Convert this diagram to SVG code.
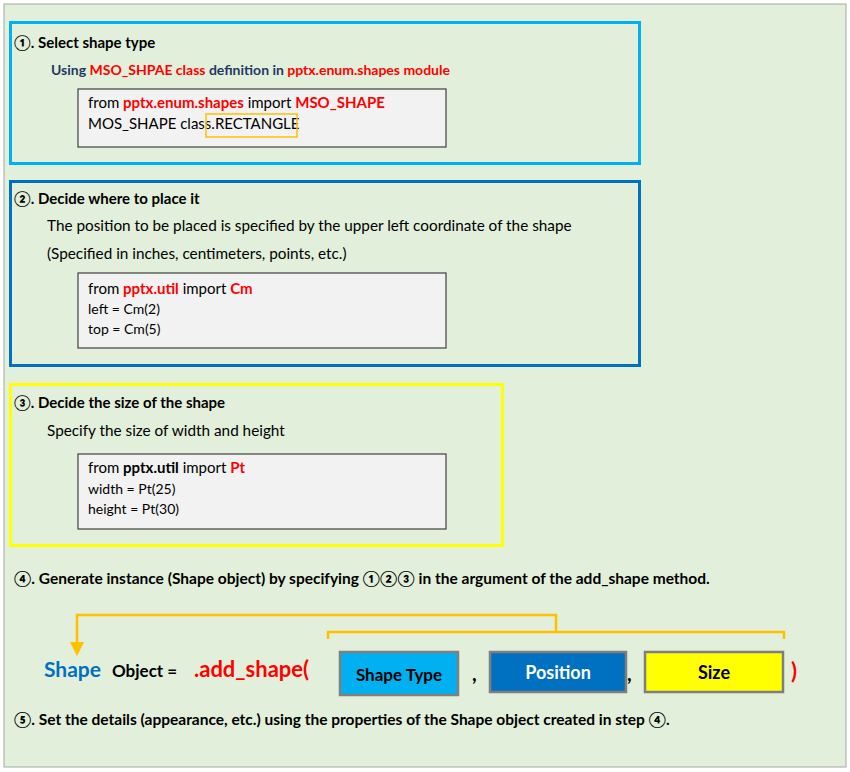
<svg xmlns="http://www.w3.org/2000/svg" width="850" height="772" viewBox="0 0 850 772">
<style>
text{font-family:Lato,"Open Sans","Liberation Sans",sans-serif;fill:#000}
.b{font-weight:bold}
.r{fill:#ff0000;font-weight:bold}
.t{font-size:15px}
.c{font-size:14px}
.s{font-size:15.5px;font-weight:bold}
.code{fill:#f2f2f2;stroke:#404040;stroke-width:1.2}
.con{fill:none;stroke:#ffc000;stroke-width:2.5}
</style>
<rect x="4" y="4" width="842" height="763" fill="#e2efda" stroke="#a6a6a6"/>
<g id="step1">
<rect x="10.5" y="22.5" width="629" height="141" fill="none" stroke="#00b0f0" stroke-width="3"/>
<text x="14" y="48" class="t b">①. Select shape type</text>
<text x="51" y="75" class="c b"><tspan style="fill:#1f3864">Using </tspan><tspan class="r">MSO_SHPAE class</tspan><tspan style="fill:#1f3864"> definition in </tspan><tspan class="r">pptx.enum.shapes module</tspan></text>
<rect x="78" y="89" width="368" height="58" class="code"/>
<text x="88" y="108" class="t">from <tspan class="r">pptx.enum.shapes</tspan> import <tspan class="r">MSO_SHAPE</tspan></text>
<text x="88" y="129" class="t">MOS_SHAPE class.RECTANGLE</text>
<rect x="206" y="114" width="91" height="23" fill="none" stroke="#ffc000" stroke-width="1.5"/>
</g>
<g id="step2">
<rect x="10.5" y="181.5" width="629" height="184" fill="none" stroke="#0070c0" stroke-width="3"/>
<text x="14" y="204" class="t b">②. Decide where to place it</text>
<text x="47" y="231" font-size="15.3">The position to be placed is specified by the upper left coordinate of the shape</text>
<text x="47" y="259" font-size="15.3">(Specified in inches, centimeters, points, etc.)</text>
<rect x="78" y="273" width="368" height="75" class="code"/>
<text x="88" y="294" class="t">from <tspan class="r">pptx.util</tspan> import <tspan class="r">Cm</tspan></text>
<text x="88" y="314" class="c">left = Cm(2)</text>
<text x="88" y="334" class="c">top = Cm(5)</text>
</g>
<g id="step3">
<rect x="10.5" y="384.5" width="492" height="161" fill="none" stroke="#ffff00" stroke-width="3"/>
<text x="14" y="408" class="t b">③. Decide the size of the shape</text>
<text x="47" y="436" font-size="15.3">Specify the size of width and height</text>
<rect x="78" y="454" width="368" height="75" class="code"/>
<text x="88" y="473" class="t">from <tspan class="b">pptx.util</tspan> import <tspan class="r">Pt</tspan></text>
<text x="88" y="494" class="c">width = Pt(25)</text>
<text x="88" y="514" class="c">height = Pt(30)</text>
</g>
<g id="step4">
<text x="14" y="584" class="s">④. Generate instance (Shape object) by specifying ①②③ in the argument of the add_shape method.</text>
</g>
<g id="formula">
<text x="44" y="677" font-size="21" font-weight="bold" style="fill:#0070c0">Shape</text>
<text x="112" y="677" font-size="17" class="b">Object =</text>
<text x="194" y="677" font-size="22" class="r">.add_shape(</text>
<text x="472" y="681" font-size="20" class="b">,</text>
<text x="627" y="681" font-size="20" class="b">,</text>
<text x="791" y="679" font-size="22" class="r">)</text>
</g>
<g id="shapeType">
<rect x="340" y="652" width="118" height="43" fill="#00b0f0" stroke="#7f7f7f" stroke-width="2.5"/>
<text x="399" y="681" font-size="17" text-anchor="middle" class="b">Shape Type</text>
</g>
<g id="position">
<rect x="490" y="652" width="136" height="40" fill="#0070c0" stroke="#7f7f7f" stroke-width="2.5"/>
<text x="558" y="679" font-size="18" text-anchor="middle" class="b" style="fill:#fff">Position</text>
</g>
<g id="size">
<rect x="645" y="652" width="138" height="40" fill="#ffff00" stroke="#7f7f7f" stroke-width="2.5"/>
<text x="714" y="679" font-size="18" text-anchor="middle" class="b">Size</text>
</g>
<g id="connectors">
<polyline class="con" points="328,639 328,632 784,632 784,639"/>
<polyline class="con" points="556,632 556,615 77,615 77,643"/>
<polygon points="70,642 84,642 77,656" fill="#ffc000"/>
</g>
<g id="step5">
<text x="14" y="725" class="s">⑤. Set the details (appearance, etc.) using the properties of the Shape object created in step ④.</text>
</g>
</svg>
